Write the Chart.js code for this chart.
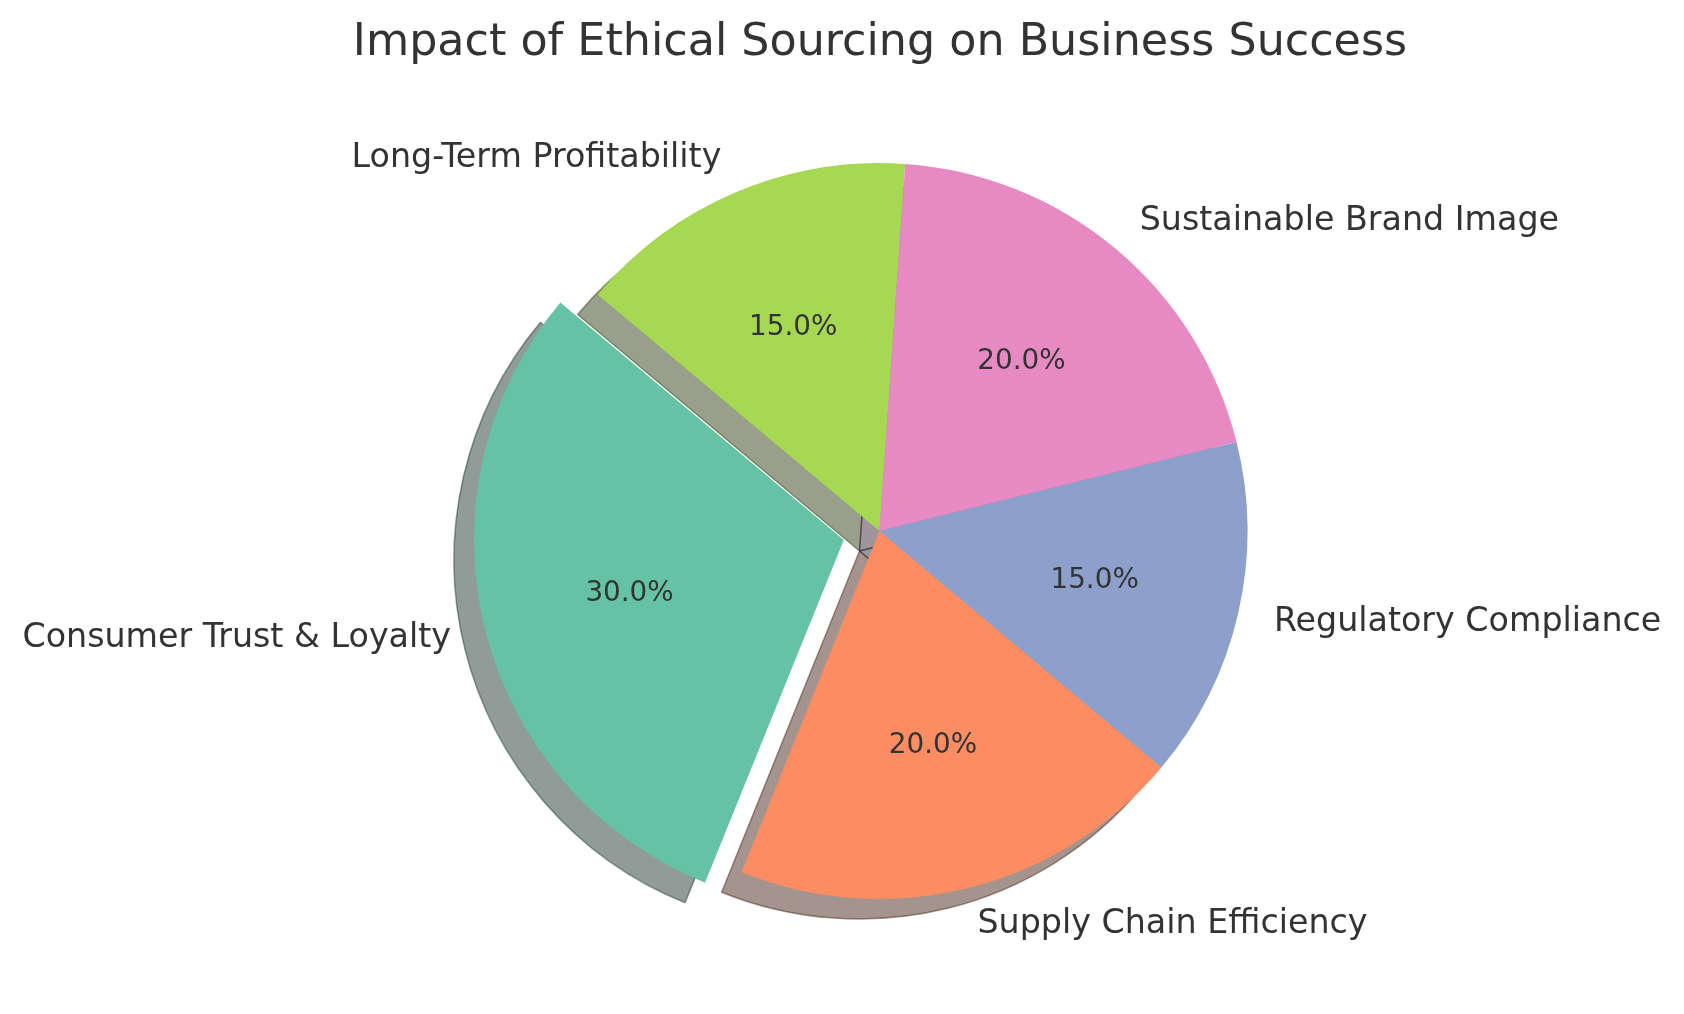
<!DOCTYPE html>
<html>
<head>
<meta charset="utf-8">
<script src="https://cdn.jsdelivr.net/npm/chart.js@4"></script>
<style>
html,body{margin:0;padding:0;background:#fff;}
#wrap{width:1684px;height:1014px;position:relative;}
</style>
</head>
<body>
<div id="wrap"><canvas id="c" width="1684" height="1014"></canvas></div>
<script>
// ---- data ----
const categories = ['Consumer Trust & Loyalty', 'Supply Chain Efficiency', 'Regulatory Compliance', 'Sustainable Brand Image', 'Long-Term Profitability'];
const shares = [30, 20, 15, 20, 15];
const explodeFlags = [1, 0, 0, 0, 0];
const chartTitle = 'Impact of Ethical Sourcing on Business Success';

// ---- style ----
const palette = ['#66c2a5', '#fc8d62', '#8da0cb', '#e78ac3', '#a6d854'];
const FONT = '"DejaVu Sans", "Liberation Sans", sans-serif';
const TEXT = '#333333';
const R = 368;
const EXPLODE = 0.1 * R;          // pixel shift of exploded wedge
const OFFSET_SCALE = 4;           // Chart.js v4 ArcElement divides offset by 4
const SHADOW_DX = -20, SHADOW_DY = 20;

function shadowOf(hex) {
  const n = parseInt(hex.slice(1), 16);
  const r = Math.round(((n >> 16) & 255) * 0.3), g = Math.round(((n >> 8) & 255) * 0.3), b = Math.round((n & 255) * 0.3);
  return 'rgba(' + r + ',' + g + ',' + b + ',0.5)';
}

// matplotlib draws counter-clockwise; Chart.js draws clockwise -> reverse order
const idx = categories.map((_, i) => i).reverse();
const total = shares.reduce((a, b) => a + b, 0);

const shadowPlugin = {
  id: 'shadowPlugin',
  beforeDatasetsDraw(chart) {
    const ctx = chart.ctx;
    const meta = chart.getDatasetMeta(0);
    meta.data.forEach((el, i) => {
      const orig = el.options;
      const col = shadowOf(palette[idx[i]]);
      el.options = Object.assign({}, orig, {backgroundColor: col, borderColor: col, borderWidth: 1.5, borderAlign: 'center'});
      ctx.save();
      ctx.translate(SHADOW_DX, SHADOW_DY);
      el.draw(ctx);
      ctx.restore();
      el.options = orig;
    });
  }
};

const labelPlugin = {
  id: 'labelPlugin',
  afterDatasetsDraw(chart) {
    const ctx = chart.ctx;
    const meta = chart.getDatasetMeta(0);
    ctx.save();
    ctx.fillStyle = TEXT;
    meta.data.forEach((el, i) => {
      const k = idx[i];
      const mid = (el.startAngle + el.endAngle) / 2;
      const off = (el.options.offset || 0) / OFFSET_SCALE;
      const cx = el.x + Math.cos(mid) * off, cy = el.y + Math.sin(mid) * off;
      const r = el.outerRadius;
      // category label
      const lfs = 33.3;
      ctx.font = lfs + 'px ' + FONT;
      ctx.textBaseline = 'alphabetic';
      const lx = cx + Math.cos(mid) * 1.1 * r, ly = cy + Math.sin(mid) * 1.1 * r;
      ctx.textAlign = Math.cos(mid) > 0 ? 'left' : 'right';
      ctx.fillText(categories[k], lx, ly + 0.262 * lfs);
      // percent label
      const pfs = 27.8;
      ctx.font = pfs + 'px ' + FONT;
      ctx.textAlign = 'center';
      const px = cx + Math.cos(mid) * 0.6 * r, py = cy + Math.sin(mid) * 0.6 * r;
      ctx.fillText((shares[k] / total * 100).toFixed(1) + '%', px, py + 0.262 * pfs);
    });
    // title
    ctx.font = '44.4px ' + FONT;
    ctx.textAlign = 'center';
    ctx.textBaseline = 'alphabetic';
    ctx.fillText(chartTitle, 880, 54.5);
    ctx.restore();
  }
};

new Chart(document.getElementById('c'), {
  type: 'pie',
  data: {
    labels: idx.map(k => categories[k]),
    datasets: [{
      data: idx.map(k => shares[k]),
      backgroundColor: idx.map(k => palette[k]),
      borderWidth: 0,
      offset: idx.map(k => explodeFlags[k] ? EXPLODE * OFFSET_SCALE : 0),
      hoverOffset: 0,
      radius: R
    }]
  },
  options: {
    responsive: false,
    devicePixelRatio: 1,
    animation: false,
    rotation: -50,
    layout: {padding: {left: 75, right: 0, top: 48, bottom: 0}},
    plugins: {legend: {display: false}, tooltip: {enabled: false}, title: {display: false}},
    events: []
  },
  plugins: [shadowPlugin, labelPlugin]
});
</script>
</body>
</html>
